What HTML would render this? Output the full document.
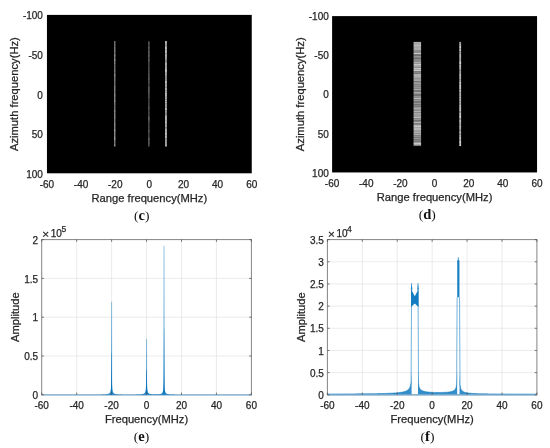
<!DOCTYPE html>
<html lang="en"><head><meta charset="utf-8"><title>Figure</title>
<style>
html,body{margin:0;padding:0;background:#fff;}
body{width:550px;height:448px;overflow:hidden;position:relative;}
svg{position:absolute;left:0;top:0;display:block;}
.t{font-family:"Liberation Sans", Arial, sans-serif;font-size:10px;fill:#262626;stroke:#262626;stroke-width:0.25px;}
.l{font-family:"Liberation Sans", Arial, sans-serif;font-size:11.2px;fill:#262626;stroke:#262626;stroke-width:0.25px;}
.c{font-family:"Liberation Serif", "DejaVu Serif", serif;font-size:13.5px;fill:#111;}
.cl{font-size:14.5px;font-weight:bold;}
.e{font-family:"Liberation Sans", Arial, sans-serif;font-size:8.5px;fill:#262626;}
</style></head><body>
<svg width="550" height="448" viewBox="0 0 550 448">
<rect x="0" y="0" width="550" height="448" fill="#ffffff"/>
<g>
<rect x="46.95" y="14.9" width="204.8" height="158.4" fill="#000"/>
<text class="t" x="46.95" y="187.9" text-anchor="middle">-60</text>
<text class="t" x="81.08" y="187.9" text-anchor="middle">-40</text>
<text class="t" x="115.22" y="187.9" text-anchor="middle">-20</text>
<text class="t" x="149.35" y="187.9" text-anchor="middle">0</text>
<text class="t" x="183.48" y="187.9" text-anchor="middle">20</text>
<text class="t" x="217.62" y="187.9" text-anchor="middle">40</text>
<text class="t" x="251.75" y="187.9" text-anchor="middle">60</text>
<text class="t" x="42.9" y="19.3" text-anchor="end">-100</text>
<text class="t" x="42.9" y="58.9" text-anchor="end">-50</text>
<text class="t" x="42.9" y="98.5" text-anchor="end">0</text>
<text class="t" x="42.9" y="138.1" text-anchor="end">50</text>
<text class="t" x="42.9" y="177.7" text-anchor="end">100</text>
<text class="l" x="149.35" y="202.3" text-anchor="middle">Range frequency(MHz)</text>
<text class="l" transform="translate(18 94.1) rotate(-90)" text-anchor="middle">Azimuth frequency(Hz)</text>
<text class="c" x="141.8" y="219.9" text-anchor="middle">(<tspan class="cl">c</tspan>)</text>
<rect x="114.12" y="41.04" width="1.3" height="2.36" fill="rgb(132,132,132)"/>
<rect x="114.12" y="43.35" width="1.3" height="3.18" fill="rgb(128,128,128)"/>
<rect x="114.12" y="46.47" width="1.3" height="2.89" fill="rgb(143,143,143)"/>
<rect x="114.12" y="49.31" width="1.3" height="1.69" fill="rgb(150,150,150)"/>
<rect x="114.12" y="50.96" width="1.3" height="1.64" fill="rgb(146,146,146)"/>
<rect x="114.12" y="52.55" width="1.3" height="1.72" fill="rgb(129,129,129)"/>
<rect x="114.12" y="54.23" width="1.3" height="2.61" fill="rgb(166,166,166)"/>
<rect x="114.12" y="56.79" width="1.3" height="1.86" fill="rgb(136,136,136)"/>
<rect x="114.12" y="58.6" width="1.3" height="3.12" fill="rgb(172,172,172)"/>
<rect x="114.12" y="61.67" width="1.3" height="2.99" fill="rgb(144,144,144)"/>
<rect x="114.12" y="64.61" width="1.3" height="3.99" fill="rgb(127,127,127)"/>
<rect x="114.12" y="68.55" width="1.3" height="3.7" fill="rgb(139,139,139)"/>
<rect x="114.12" y="72.19" width="1.3" height="1.91" fill="rgb(130,130,130)"/>
<rect x="114.12" y="74.06" width="1.3" height="2.32" fill="rgb(165,165,165)"/>
<rect x="114.12" y="76.33" width="1.3" height="2" fill="rgb(154,154,154)"/>
<rect x="114.12" y="78.28" width="1.3" height="3.15" fill="rgb(143,143,143)"/>
<rect x="114.12" y="81.38" width="1.3" height="2.92" fill="rgb(128,128,128)"/>
<rect x="114.12" y="84.25" width="1.3" height="1.7" fill="rgb(135,135,135)"/>
<rect x="114.12" y="85.89" width="1.3" height="3.25" fill="rgb(146,146,146)"/>
<rect x="114.12" y="89.1" width="1.3" height="2.34" fill="rgb(154,154,154)"/>
<rect x="114.12" y="91.38" width="1.3" height="2.68" fill="rgb(139,139,139)"/>
<rect x="114.12" y="94.01" width="1.3" height="3.54" fill="rgb(159,159,159)"/>
<rect x="114.12" y="97.5" width="1.3" height="2.16" fill="rgb(153,153,153)"/>
<rect x="114.12" y="99.61" width="1.3" height="2.86" fill="rgb(168,168,168)"/>
<rect x="114.12" y="102.42" width="1.3" height="3.37" fill="rgb(139,139,139)"/>
<rect x="114.12" y="105.75" width="1.3" height="4" fill="rgb(130,130,130)"/>
<rect x="114.12" y="109.7" width="1.3" height="2.6" fill="rgb(162,162,162)"/>
<rect x="114.12" y="112.24" width="1.3" height="1.93" fill="rgb(149,149,149)"/>
<rect x="114.12" y="114.12" width="1.3" height="1.65" fill="rgb(158,158,158)"/>
<rect x="114.12" y="115.72" width="1.3" height="3.46" fill="rgb(153,153,153)"/>
<rect x="114.12" y="119.13" width="1.3" height="3.74" fill="rgb(140,140,140)"/>
<rect x="114.12" y="122.82" width="1.3" height="3.29" fill="rgb(154,154,154)"/>
<rect x="114.12" y="126.06" width="1.3" height="3" fill="rgb(147,147,147)"/>
<rect x="114.12" y="129.01" width="1.3" height="3.65" fill="rgb(172,172,172)"/>
<rect x="114.12" y="132.61" width="1.3" height="2.74" fill="rgb(158,158,158)"/>
<rect x="114.12" y="135.29" width="1.3" height="1.7" fill="rgb(160,160,160)"/>
<rect x="114.12" y="136.95" width="1.3" height="3.17" fill="rgb(174,174,174)"/>
<rect x="114.12" y="140.06" width="1.3" height="3.6" fill="rgb(139,139,139)"/>
<rect x="114.12" y="143.62" width="1.3" height="2.51" fill="rgb(158,158,158)"/>
<rect x="114.12" y="146.08" width="1.3" height="0.5" fill="rgb(148,148,148)"/>
<rect x="148.3" y="41.04" width="1.2" height="1.97" fill="rgb(95,95,95)"/>
<rect x="148.3" y="42.96" width="1.2" height="1.7" fill="rgb(128,128,128)"/>
<rect x="148.3" y="44.6" width="1.2" height="1.87" fill="rgb(102,102,102)"/>
<rect x="148.3" y="46.43" width="1.2" height="2.53" fill="rgb(133,133,133)"/>
<rect x="148.3" y="48.9" width="1.2" height="1.75" fill="rgb(112,112,112)"/>
<rect x="148.3" y="50.61" width="1.2" height="2.92" fill="rgb(134,134,134)"/>
<rect x="148.3" y="53.48" width="1.2" height="3.6" fill="rgb(133,133,133)"/>
<rect x="148.3" y="57.03" width="1.2" height="2.25" fill="rgb(110,110,110)"/>
<rect x="148.3" y="59.22" width="1.2" height="2.45" fill="rgb(134,134,134)"/>
<rect x="148.3" y="61.62" width="1.2" height="3.94" fill="rgb(97,97,97)"/>
<rect x="148.3" y="65.51" width="1.2" height="1.99" fill="rgb(101,101,101)"/>
<rect x="148.3" y="67.46" width="1.2" height="2.13" fill="rgb(114,114,114)"/>
<rect x="148.3" y="69.54" width="1.2" height="3.02" fill="rgb(103,103,103)"/>
<rect x="148.3" y="72.51" width="1.2" height="1.56" fill="rgb(110,110,110)"/>
<rect x="148.3" y="74.02" width="1.2" height="2.47" fill="rgb(118,118,118)"/>
<rect x="148.3" y="76.44" width="1.2" height="3.93" fill="rgb(124,124,124)"/>
<rect x="148.3" y="80.33" width="1.2" height="2.84" fill="rgb(120,120,120)"/>
<rect x="148.3" y="83.12" width="1.2" height="3.24" fill="rgb(92,92,92)"/>
<rect x="148.3" y="86.31" width="1.2" height="3.8" fill="rgb(128,128,128)"/>
<rect x="148.3" y="90.06" width="1.2" height="3.74" fill="rgb(129,129,129)"/>
<rect x="148.3" y="93.74" width="1.2" height="2.53" fill="rgb(109,109,109)"/>
<rect x="148.3" y="96.22" width="1.2" height="1.81" fill="rgb(121,121,121)"/>
<rect x="148.3" y="97.98" width="1.2" height="1.71" fill="rgb(93,93,93)"/>
<rect x="148.3" y="99.64" width="1.2" height="2.07" fill="rgb(98,98,98)"/>
<rect x="148.3" y="101.66" width="1.2" height="2.4" fill="rgb(92,92,92)"/>
<rect x="148.3" y="104.01" width="1.2" height="1.55" fill="rgb(97,97,97)"/>
<rect x="148.3" y="105.51" width="1.2" height="1.8" fill="rgb(108,108,108)"/>
<rect x="148.3" y="107.26" width="1.2" height="1.61" fill="rgb(133,133,133)"/>
<rect x="148.3" y="108.83" width="1.2" height="3.09" fill="rgb(97,97,97)"/>
<rect x="148.3" y="111.86" width="1.2" height="2.18" fill="rgb(107,107,107)"/>
<rect x="148.3" y="113.99" width="1.2" height="2.46" fill="rgb(96,96,96)"/>
<rect x="148.3" y="116.4" width="1.2" height="3.67" fill="rgb(139,139,139)"/>
<rect x="148.3" y="120.03" width="1.2" height="2.71" fill="rgb(114,114,114)"/>
<rect x="148.3" y="122.69" width="1.2" height="1.76" fill="rgb(95,95,95)"/>
<rect x="148.3" y="124.41" width="1.2" height="2.41" fill="rgb(103,103,103)"/>
<rect x="148.3" y="126.76" width="1.2" height="3.62" fill="rgb(98,98,98)"/>
<rect x="148.3" y="130.33" width="1.2" height="1.61" fill="rgb(137,137,137)"/>
<rect x="148.3" y="131.89" width="1.2" height="2.87" fill="rgb(97,97,97)"/>
<rect x="148.3" y="134.71" width="1.2" height="2.91" fill="rgb(91,91,91)"/>
<rect x="148.3" y="137.57" width="1.2" height="2.87" fill="rgb(138,138,138)"/>
<rect x="148.3" y="140.39" width="1.2" height="3.71" fill="rgb(124,124,124)"/>
<rect x="148.3" y="144.05" width="1.2" height="2.2" fill="rgb(108,108,108)"/>
<rect x="148.3" y="146.2" width="1.2" height="0.38" fill="rgb(128,128,128)"/>
<rect x="165.02" y="41.04" width="1.9" height="2.88" fill="rgb(183,183,183)"/>
<rect x="165.02" y="43.87" width="1.9" height="2.37" fill="rgb(156,156,156)"/>
<rect x="165.02" y="46.19" width="1.9" height="3.58" fill="rgb(194,194,194)"/>
<rect x="165.02" y="49.72" width="1.9" height="3.68" fill="rgb(185,185,185)"/>
<rect x="165.02" y="53.35" width="1.9" height="3.6" fill="rgb(181,181,181)"/>
<rect x="165.02" y="56.9" width="1.9" height="2.12" fill="rgb(170,170,170)"/>
<rect x="165.02" y="58.96" width="1.9" height="2.44" fill="rgb(146,146,146)"/>
<rect x="165.02" y="61.35" width="1.9" height="1.62" fill="rgb(158,158,158)"/>
<rect x="165.02" y="62.92" width="1.9" height="2.2" fill="rgb(179,179,179)"/>
<rect x="165.02" y="65.07" width="1.9" height="3.94" fill="rgb(167,167,167)"/>
<rect x="165.02" y="68.96" width="1.9" height="3.89" fill="rgb(194,194,194)"/>
<rect x="165.02" y="72.81" width="1.9" height="3.94" fill="rgb(163,163,163)"/>
<rect x="165.02" y="76.69" width="1.9" height="2.1" fill="rgb(156,156,156)"/>
<rect x="165.02" y="78.74" width="1.9" height="2.04" fill="rgb(155,155,155)"/>
<rect x="165.02" y="80.74" width="1.9" height="3.11" fill="rgb(190,190,190)"/>
<rect x="165.02" y="83.8" width="1.9" height="3.65" fill="rgb(168,168,168)"/>
<rect x="165.02" y="87.4" width="1.9" height="3.18" fill="rgb(184,184,184)"/>
<rect x="165.02" y="90.53" width="1.9" height="1.76" fill="rgb(178,178,178)"/>
<rect x="165.02" y="92.24" width="1.9" height="3.82" fill="rgb(184,184,184)"/>
<rect x="165.02" y="96.02" width="1.9" height="3.43" fill="rgb(168,168,168)"/>
<rect x="165.02" y="99.39" width="1.9" height="2" fill="rgb(184,184,184)"/>
<rect x="165.02" y="101.34" width="1.9" height="2.38" fill="rgb(185,185,185)"/>
<rect x="165.02" y="103.67" width="1.9" height="3.98" fill="rgb(164,164,164)"/>
<rect x="165.02" y="107.6" width="1.9" height="2.55" fill="rgb(192,192,192)"/>
<rect x="165.02" y="110.1" width="1.9" height="3.36" fill="rgb(153,153,153)"/>
<rect x="165.02" y="113.41" width="1.9" height="1.87" fill="rgb(152,152,152)"/>
<rect x="165.02" y="115.23" width="1.9" height="3.81" fill="rgb(185,185,185)"/>
<rect x="165.02" y="118.99" width="1.9" height="1.92" fill="rgb(186,186,186)"/>
<rect x="165.02" y="120.86" width="1.9" height="4" fill="rgb(177,177,177)"/>
<rect x="165.02" y="124.81" width="1.9" height="2.43" fill="rgb(172,172,172)"/>
<rect x="165.02" y="127.19" width="1.9" height="1.88" fill="rgb(145,145,145)"/>
<rect x="165.02" y="129.01" width="1.9" height="3.98" fill="rgb(177,177,177)"/>
<rect x="165.02" y="132.94" width="1.9" height="2.87" fill="rgb(191,191,191)"/>
<rect x="165.02" y="135.76" width="1.9" height="2.63" fill="rgb(188,188,188)"/>
<rect x="165.02" y="138.34" width="1.9" height="3.62" fill="rgb(155,155,155)"/>
<rect x="165.02" y="141.91" width="1.9" height="2.18" fill="rgb(159,159,159)"/>
<rect x="165.02" y="144.04" width="1.9" height="2.15" fill="rgb(174,174,174)"/>
<rect x="165.02" y="146.14" width="1.9" height="0.44" fill="rgb(165,165,165)"/>
</g>
<g>
<rect x="332.1" y="16.1" width="204.95" height="156.35" fill="#000"/>
<text class="t" x="332.1" y="186.7" text-anchor="middle">-60</text>
<text class="t" x="366.26" y="186.7" text-anchor="middle">-40</text>
<text class="t" x="400.42" y="186.7" text-anchor="middle">-20</text>
<text class="t" x="434.58" y="186.7" text-anchor="middle">0</text>
<text class="t" x="468.73" y="186.7" text-anchor="middle">20</text>
<text class="t" x="502.89" y="186.7" text-anchor="middle">40</text>
<text class="t" x="537.05" y="186.7" text-anchor="middle">60</text>
<text class="t" x="328.8" y="20.3" text-anchor="end">-100</text>
<text class="t" x="328.8" y="59.39" text-anchor="end">-50</text>
<text class="t" x="328.8" y="98.48" text-anchor="end">0</text>
<text class="t" x="328.8" y="137.56" text-anchor="end">50</text>
<text class="t" x="328.8" y="176.65" text-anchor="end">100</text>
<text class="l" x="434.58" y="200.6" text-anchor="middle">Range frequency(MHz)</text>
<text class="l" transform="translate(303.5 94.28) rotate(-90)" text-anchor="middle">Azimuth frequency(Hz)</text>
<text class="c" x="427.3" y="218.9" text-anchor="middle">(<tspan class="cl">d</tspan>)</text>
<rect x="413.57" y="41.9" width="7.51" height="1.03" fill="rgb(185,185,185)"/>
<rect x="413.57" y="42.88" width="7.51" height="1.35" fill="rgb(168,168,168)"/>
<rect x="413.57" y="44.18" width="7.51" height="1.78" fill="rgb(200,200,200)"/>
<rect x="413.57" y="45.9" width="7.51" height="2.12" fill="rgb(168,168,168)"/>
<rect x="413.57" y="47.97" width="7.51" height="2.01" fill="rgb(175,175,175)"/>
<rect x="413.57" y="49.93" width="7.51" height="1.03" fill="rgb(150,150,150)"/>
<rect x="413.57" y="50.91" width="7.51" height="1.58" fill="rgb(135,135,135)"/>
<rect x="413.57" y="52.44" width="7.51" height="2.07" fill="rgb(200,200,200)"/>
<rect x="413.57" y="54.47" width="7.51" height="1.11" fill="rgb(135,135,135)"/>
<rect x="413.57" y="55.52" width="7.51" height="1.94" fill="rgb(150,150,150)"/>
<rect x="413.57" y="57.41" width="7.51" height="1.09" fill="rgb(168,168,168)"/>
<rect x="413.57" y="58.45" width="7.51" height="1.72" fill="rgb(135,135,135)"/>
<rect x="413.57" y="60.12" width="7.51" height="1.63" fill="rgb(160,160,160)"/>
<rect x="413.57" y="61.7" width="7.51" height="1.81" fill="rgb(175,175,175)"/>
<rect x="413.57" y="63.45" width="7.51" height="1.63" fill="rgb(200,200,200)"/>
<rect x="413.57" y="65.03" width="7.51" height="1.94" fill="rgb(175,175,175)"/>
<rect x="413.57" y="66.92" width="7.51" height="0.93" fill="rgb(150,150,150)"/>
<rect x="413.57" y="67.8" width="7.51" height="1.24" fill="rgb(200,200,200)"/>
<rect x="413.57" y="68.98" width="7.51" height="0.99" fill="rgb(168,168,168)"/>
<rect x="413.57" y="69.92" width="7.51" height="1.64" fill="rgb(200,200,200)"/>
<rect x="413.57" y="71.51" width="7.51" height="2.1" fill="rgb(135,135,135)"/>
<rect x="413.57" y="73.56" width="7.51" height="1.47" fill="rgb(175,175,175)"/>
<rect x="413.57" y="74.98" width="7.51" height="2.21" fill="rgb(175,175,175)"/>
<rect x="413.57" y="77.14" width="7.51" height="1.57" fill="rgb(185,185,185)"/>
<rect x="413.57" y="78.66" width="7.51" height="1.24" fill="rgb(175,175,175)"/>
<rect x="413.57" y="79.85" width="7.51" height="1.6" fill="rgb(168,168,168)"/>
<rect x="413.57" y="81.39" width="7.51" height="1.56" fill="rgb(150,150,150)"/>
<rect x="413.57" y="82.9" width="7.51" height="1.83" fill="rgb(160,160,160)"/>
<rect x="413.57" y="84.68" width="7.51" height="2.14" fill="rgb(150,150,150)"/>
<rect x="413.57" y="86.77" width="7.51" height="2.03" fill="rgb(150,150,150)"/>
<rect x="413.57" y="88.75" width="7.51" height="1.43" fill="rgb(168,168,168)"/>
<rect x="413.57" y="90.13" width="7.51" height="1.47" fill="rgb(135,135,135)"/>
<rect x="413.57" y="91.55" width="7.51" height="1.79" fill="rgb(168,168,168)"/>
<rect x="413.57" y="93.29" width="7.51" height="0.95" fill="rgb(185,185,185)"/>
<rect x="413.57" y="94.19" width="7.51" height="1.27" fill="rgb(135,135,135)"/>
<rect x="413.57" y="95.42" width="7.51" height="2.11" fill="rgb(150,150,150)"/>
<rect x="413.57" y="97.47" width="7.51" height="2.17" fill="rgb(185,185,185)"/>
<rect x="413.57" y="99.59" width="7.51" height="1.77" fill="rgb(150,150,150)"/>
<rect x="413.57" y="101.31" width="7.51" height="1.2" fill="rgb(150,150,150)"/>
<rect x="413.57" y="102.47" width="7.51" height="2.2" fill="rgb(150,150,150)"/>
<rect x="413.57" y="104.62" width="7.51" height="1.9" fill="rgb(135,135,135)"/>
<rect x="413.57" y="106.47" width="7.51" height="1.41" fill="rgb(168,168,168)"/>
<rect x="413.57" y="107.83" width="7.51" height="1.08" fill="rgb(185,185,185)"/>
<rect x="413.57" y="108.85" width="7.51" height="2.02" fill="rgb(150,150,150)"/>
<rect x="413.57" y="110.82" width="7.51" height="1.84" fill="rgb(175,175,175)"/>
<rect x="413.57" y="112.61" width="7.51" height="1.42" fill="rgb(168,168,168)"/>
<rect x="413.57" y="113.97" width="7.51" height="1.12" fill="rgb(160,160,160)"/>
<rect x="413.57" y="115.05" width="7.51" height="0.98" fill="rgb(160,160,160)"/>
<rect x="413.57" y="115.98" width="7.51" height="0.88" fill="rgb(175,175,175)"/>
<rect x="413.57" y="116.8" width="7.51" height="1.49" fill="rgb(185,185,185)"/>
<rect x="413.57" y="118.25" width="7.51" height="0.88" fill="rgb(160,160,160)"/>
<rect x="413.57" y="119.07" width="7.51" height="1.57" fill="rgb(160,160,160)"/>
<rect x="413.57" y="120.6" width="7.51" height="1.57" fill="rgb(135,135,135)"/>
<rect x="413.57" y="122.11" width="7.51" height="1.01" fill="rgb(200,200,200)"/>
<rect x="413.57" y="123.07" width="7.51" height="1.17" fill="rgb(135,135,135)"/>
<rect x="413.57" y="124.19" width="7.51" height="0.97" fill="rgb(160,160,160)"/>
<rect x="413.57" y="125.11" width="7.51" height="0.91" fill="rgb(200,200,200)"/>
<rect x="413.57" y="125.96" width="7.51" height="1.1" fill="rgb(200,200,200)"/>
<rect x="413.57" y="127.02" width="7.51" height="1.03" fill="rgb(168,168,168)"/>
<rect x="413.57" y="128" width="7.51" height="2.04" fill="rgb(185,185,185)"/>
<rect x="413.57" y="129.99" width="7.51" height="2" fill="rgb(160,160,160)"/>
<rect x="413.57" y="131.94" width="7.51" height="1.42" fill="rgb(175,175,175)"/>
<rect x="413.57" y="133.3" width="7.51" height="2.14" fill="rgb(175,175,175)"/>
<rect x="413.57" y="135.39" width="7.51" height="1.54" fill="rgb(160,160,160)"/>
<rect x="413.57" y="136.88" width="7.51" height="0.98" fill="rgb(135,135,135)"/>
<rect x="413.57" y="137.81" width="7.51" height="1.97" fill="rgb(150,150,150)"/>
<rect x="413.57" y="139.73" width="7.51" height="1.45" fill="rgb(135,135,135)"/>
<rect x="413.57" y="141.12" width="7.51" height="1.23" fill="rgb(135,135,135)"/>
<rect x="413.57" y="142.3" width="7.51" height="1.74" fill="rgb(200,200,200)"/>
<rect x="413.57" y="143.99" width="7.51" height="1.21" fill="rgb(175,175,175)"/>
<rect x="413.57" y="145.15" width="7.51" height="0.92" fill="rgb(135,135,135)"/>
<rect x="459.29" y="41.9" width="1.8" height="1.73" fill="rgb(165,165,165)"/>
<rect x="459.29" y="43.57" width="1.8" height="2.07" fill="rgb(195,195,195)"/>
<rect x="459.29" y="45.59" width="1.8" height="3.04" fill="rgb(205,205,205)"/>
<rect x="459.29" y="48.58" width="1.8" height="2.92" fill="rgb(195,195,195)"/>
<rect x="459.29" y="51.45" width="1.8" height="2.37" fill="rgb(165,165,165)"/>
<rect x="459.29" y="53.77" width="1.8" height="2.2" fill="rgb(180,180,180)"/>
<rect x="459.29" y="55.92" width="1.8" height="2.94" fill="rgb(180,180,180)"/>
<rect x="459.29" y="58.8" width="1.8" height="1.72" fill="rgb(180,180,180)"/>
<rect x="459.29" y="60.48" width="1.8" height="1.61" fill="rgb(195,195,195)"/>
<rect x="459.29" y="62.04" width="1.8" height="2.38" fill="rgb(215,215,215)"/>
<rect x="459.29" y="64.37" width="1.8" height="2.62" fill="rgb(195,195,195)"/>
<rect x="459.29" y="66.94" width="1.8" height="2.05" fill="rgb(180,180,180)"/>
<rect x="459.29" y="68.94" width="1.8" height="1.74" fill="rgb(165,165,165)"/>
<rect x="459.29" y="70.63" width="1.8" height="3.04" fill="rgb(165,165,165)"/>
<rect x="459.29" y="73.62" width="1.8" height="1.28" fill="rgb(215,215,215)"/>
<rect x="459.29" y="74.84" width="1.8" height="2.24" fill="rgb(180,180,180)"/>
<rect x="459.29" y="77.04" width="1.8" height="2.18" fill="rgb(180,180,180)"/>
<rect x="459.29" y="79.16" width="1.8" height="2.93" fill="rgb(165,165,165)"/>
<rect x="459.29" y="82.04" width="1.8" height="2.43" fill="rgb(205,205,205)"/>
<rect x="459.29" y="84.43" width="1.8" height="2.43" fill="rgb(215,215,215)"/>
<rect x="459.29" y="86.81" width="1.8" height="2.75" fill="rgb(205,205,205)"/>
<rect x="459.29" y="89.51" width="1.8" height="3" fill="rgb(195,195,195)"/>
<rect x="459.29" y="92.46" width="1.8" height="2.49" fill="rgb(180,180,180)"/>
<rect x="459.29" y="94.9" width="1.8" height="1.87" fill="rgb(180,180,180)"/>
<rect x="459.29" y="96.71" width="1.8" height="1.98" fill="rgb(195,195,195)"/>
<rect x="459.29" y="98.64" width="1.8" height="3.02" fill="rgb(180,180,180)"/>
<rect x="459.29" y="101.61" width="1.8" height="1.28" fill="rgb(195,195,195)"/>
<rect x="459.29" y="102.84" width="1.8" height="2.03" fill="rgb(165,165,165)"/>
<rect x="459.29" y="104.81" width="1.8" height="1.4" fill="rgb(205,205,205)"/>
<rect x="459.29" y="106.16" width="1.8" height="2.82" fill="rgb(195,195,195)"/>
<rect x="459.29" y="108.93" width="1.8" height="2.33" fill="rgb(195,195,195)"/>
<rect x="459.29" y="111.21" width="1.8" height="1.33" fill="rgb(180,180,180)"/>
<rect x="459.29" y="112.49" width="1.8" height="1.53" fill="rgb(205,205,205)"/>
<rect x="459.29" y="113.97" width="1.8" height="1.26" fill="rgb(195,195,195)"/>
<rect x="459.29" y="115.18" width="1.8" height="2.98" fill="rgb(215,215,215)"/>
<rect x="459.29" y="118.11" width="1.8" height="1.83" fill="rgb(165,165,165)"/>
<rect x="459.29" y="119.89" width="1.8" height="2.99" fill="rgb(195,195,195)"/>
<rect x="459.29" y="122.83" width="1.8" height="1.64" fill="rgb(180,180,180)"/>
<rect x="459.29" y="124.42" width="1.8" height="1.25" fill="rgb(205,205,205)"/>
<rect x="459.29" y="125.63" width="1.8" height="1.4" fill="rgb(195,195,195)"/>
<rect x="459.29" y="126.98" width="1.8" height="2.15" fill="rgb(180,180,180)"/>
<rect x="459.29" y="129.08" width="1.8" height="1.7" fill="rgb(165,165,165)"/>
<rect x="459.29" y="130.73" width="1.8" height="1.41" fill="rgb(165,165,165)"/>
<rect x="459.29" y="132.09" width="1.8" height="1.51" fill="rgb(215,215,215)"/>
<rect x="459.29" y="133.55" width="1.8" height="1.33" fill="rgb(165,165,165)"/>
<rect x="459.29" y="134.83" width="1.8" height="1.79" fill="rgb(180,180,180)"/>
<rect x="459.29" y="136.57" width="1.8" height="1.4" fill="rgb(215,215,215)"/>
<rect x="459.29" y="137.92" width="1.8" height="2.79" fill="rgb(180,180,180)"/>
<rect x="459.29" y="140.65" width="1.8" height="2.43" fill="rgb(215,215,215)"/>
<rect x="459.29" y="143.04" width="1.8" height="1.95" fill="rgb(195,195,195)"/>
<rect x="459.29" y="144.94" width="1.8" height="1.14" fill="rgb(205,205,205)"/>
</g>
<g>
<line x1="76.65" y1="239.6" x2="76.65" y2="394.8" stroke="#e2e2e2" stroke-width="0.7"/>
<line x1="111.6" y1="239.6" x2="111.6" y2="394.8" stroke="#e2e2e2" stroke-width="0.7"/>
<line x1="146.55" y1="239.6" x2="146.55" y2="394.8" stroke="#e2e2e2" stroke-width="0.7"/>
<line x1="181.5" y1="239.6" x2="181.5" y2="394.8" stroke="#e2e2e2" stroke-width="0.7"/>
<line x1="216.45" y1="239.6" x2="216.45" y2="394.8" stroke="#e2e2e2" stroke-width="0.7"/>
<line x1="41.7" y1="356" x2="251.4" y2="356" stroke="#e2e2e2" stroke-width="0.7"/>
<line x1="41.7" y1="317.2" x2="251.4" y2="317.2" stroke="#e2e2e2" stroke-width="0.7"/>
<line x1="41.7" y1="278.4" x2="251.4" y2="278.4" stroke="#e2e2e2" stroke-width="0.7"/>
<rect x="41.7" y="239.6" width="209.7" height="155.2" fill="none" stroke="#848484" stroke-width="1"/>
<defs><linearGradient id="sg" x1="0" y1="0" x2="0" y2="1"><stop offset="0" stop-color="#0072bd" stop-opacity="0.42"/><stop offset="0.55" stop-color="#0072bd" stop-opacity="0.6"/><stop offset="1" stop-color="#0072bd" stop-opacity="0.95"/></linearGradient></defs>
<line x1="41.7" y1="394.8" x2="251.4" y2="394.8" stroke="#8fc1e3" stroke-width="1.2"/>
<rect x="111.1" y="301.68" width="1" height="93.12" fill="url(#sg)"/>
<path d="M99.6 394.8 L99.6 394.68 L100.14 394.66 L100.67 394.64 L101.19 394.62 L101.69 394.6 L102.18 394.58 L102.65 394.56 L103.12 394.53 L103.57 394.51 L104 394.48 L104.42 394.45 L104.83 394.42 L105.23 394.39 L105.61 394.35 L105.98 394.31 L106.34 394.27 L106.68 394.22 L107.01 394.17 L107.33 394.11 L107.64 394.04 L107.93 393.97 L108.22 393.88 L108.49 393.78 L108.74 393.67 L108.99 393.54 L109.22 393.38 L109.44 393.2 L109.65 392.99 L109.85 392.72 L110.04 392.41 L110.21 392.02 L110.38 391.54 L110.53 390.93 L110.67 390.15 L110.8 389.14 L110.92 387.81 L111.03 386.01 L111.13 383.55 L111.22 380.09 L111.3 375.1 L111.37 367.77 L111.43 356.75 L111.48 352.9 L111.52 352.9 L111.55 352.9 L111.57 352.9 L111.59 352.9 L111.6 352.9 L111.6 352.9 L111.6 352.9 L111.61 352.9 L111.63 352.9 L111.65 352.9 L111.68 352.9 L111.72 352.9 L111.77 356.75 L111.83 367.77 L111.9 375.1 L111.98 380.09 L112.07 383.55 L112.17 386.01 L112.28 387.81 L112.4 389.14 L112.53 390.15 L112.67 390.93 L112.82 391.54 L112.99 392.02 L113.16 392.41 L113.35 392.72 L113.55 392.99 L113.76 393.2 L113.98 393.38 L114.21 393.54 L114.46 393.67 L114.71 393.78 L114.98 393.88 L115.27 393.97 L115.56 394.04 L115.87 394.11 L116.19 394.17 L116.52 394.22 L116.86 394.27 L117.22 394.31 L117.59 394.35 L117.97 394.39 L118.37 394.42 L118.78 394.45 L119.2 394.48 L119.63 394.51 L120.08 394.53 L120.55 394.56 L121.02 394.58 L121.51 394.6 L122.01 394.62 L122.53 394.64 L123.06 394.66 L123.6 394.68 L123.6 394.8 Z" fill="#0072bd" fill-opacity="0.85"/>
<rect x="146.05" y="338.93" width="1" height="55.87" fill="url(#sg)"/>
<path d="M134.55 394.8 L134.55 394.68 L135.09 394.66 L135.62 394.64 L136.14 394.62 L136.64 394.6 L137.13 394.58 L137.6 394.56 L138.07 394.53 L138.52 394.51 L138.95 394.48 L139.37 394.45 L139.78 394.42 L140.18 394.39 L140.56 394.35 L140.93 394.31 L141.29 394.27 L141.63 394.22 L141.96 394.17 L142.28 394.11 L142.59 394.04 L142.88 393.97 L143.17 393.88 L143.44 393.78 L143.69 393.67 L143.94 393.54 L144.17 393.38 L144.39 393.2 L144.6 392.99 L144.8 392.72 L144.99 392.41 L145.16 392.02 L145.33 391.54 L145.48 390.93 L145.62 390.15 L145.75 389.14 L145.87 387.81 L145.98 386.01 L146.08 383.55 L146.17 380.09 L146.25 375.1 L146.32 369.66 L146.38 369.66 L146.43 369.66 L146.47 369.66 L146.5 369.66 L146.52 369.66 L146.54 369.66 L146.55 369.66 L146.55 369.66 L146.55 369.66 L146.56 369.66 L146.58 369.66 L146.6 369.66 L146.63 369.66 L146.67 369.66 L146.72 369.66 L146.78 369.66 L146.85 375.1 L146.93 380.09 L147.02 383.55 L147.12 386.01 L147.23 387.81 L147.35 389.14 L147.48 390.15 L147.62 390.93 L147.77 391.54 L147.94 392.02 L148.11 392.41 L148.3 392.72 L148.5 392.99 L148.71 393.2 L148.93 393.38 L149.16 393.54 L149.41 393.67 L149.66 393.78 L149.93 393.88 L150.22 393.97 L150.51 394.04 L150.82 394.11 L151.14 394.17 L151.47 394.22 L151.81 394.27 L152.17 394.31 L152.54 394.35 L152.92 394.39 L153.32 394.42 L153.73 394.45 L154.15 394.48 L154.58 394.51 L155.03 394.53 L155.5 394.56 L155.97 394.58 L156.46 394.6 L156.96 394.62 L157.48 394.64 L158.01 394.66 L158.55 394.68 L158.55 394.8 Z" fill="#0072bd" fill-opacity="0.85"/>
<rect x="163.53" y="245.81" width="1" height="148.99" fill="url(#sg)"/>
<path d="M152.03 394.8 L152.03 394.68 L152.57 394.66 L153.1 394.64 L153.61 394.62 L154.12 394.6 L154.6 394.58 L155.08 394.56 L155.54 394.53 L155.99 394.51 L156.43 394.48 L156.85 394.45 L157.26 394.42 L157.65 394.39 L158.04 394.35 L158.41 394.31 L158.76 394.27 L159.11 394.22 L159.44 394.17 L159.76 394.11 L160.06 394.04 L160.36 393.97 L160.64 393.88 L160.91 393.78 L161.17 393.67 L161.41 393.54 L161.65 393.38 L161.87 393.2 L162.08 392.99 L162.28 392.72 L162.46 392.41 L162.64 392.02 L162.8 391.54 L162.95 390.93 L163.1 390.15 L163.23 389.14 L163.35 387.81 L163.46 386.01 L163.56 383.55 L163.64 380.09 L163.72 375.1 L163.79 367.77 L163.85 356.75 L163.9 340.07 L163.94 327.75 L163.97 327.75 L164 327.75 L164.01 327.75 L164.02 327.75 L164.03 327.75 L164.03 327.75 L164.04 327.75 L164.05 327.75 L164.08 327.75 L164.11 327.75 L164.15 340.07 L164.2 356.75 L164.26 367.77 L164.33 375.1 L164.41 380.09 L164.49 383.55 L164.59 386.01 L164.7 387.81 L164.82 389.14 L164.95 390.15 L165.1 390.93 L165.25 391.54 L165.41 392.02 L165.59 392.41 L165.77 392.72 L165.97 392.99 L166.18 393.2 L166.4 393.38 L166.64 393.54 L166.88 393.67 L167.14 393.78 L167.41 393.88 L167.69 393.97 L167.99 394.04 L168.29 394.11 L168.61 394.17 L168.94 394.22 L169.29 394.27 L169.64 394.31 L170.01 394.35 L170.4 394.39 L170.79 394.42 L171.2 394.45 L171.62 394.48 L172.06 394.51 L172.51 394.53 L172.97 394.56 L173.45 394.58 L173.93 394.6 L174.44 394.62 L174.95 394.64 L175.48 394.66 L176.03 394.68 L176.03 394.8 Z" fill="#0072bd" fill-opacity="0.85"/>
<line x1="41.7" y1="394.8" x2="41.7" y2="392.6" stroke="#555" stroke-width="0.8"/>
<line x1="41.7" y1="239.6" x2="41.7" y2="241.8" stroke="#555" stroke-width="0.8"/>
<text class="t" x="41.7" y="408.8" text-anchor="middle">-60</text>
<line x1="76.65" y1="394.8" x2="76.65" y2="392.6" stroke="#555" stroke-width="0.8"/>
<line x1="76.65" y1="239.6" x2="76.65" y2="241.8" stroke="#555" stroke-width="0.8"/>
<text class="t" x="76.65" y="408.8" text-anchor="middle">-40</text>
<line x1="111.6" y1="394.8" x2="111.6" y2="392.6" stroke="#555" stroke-width="0.8"/>
<line x1="111.6" y1="239.6" x2="111.6" y2="241.8" stroke="#555" stroke-width="0.8"/>
<text class="t" x="111.6" y="408.8" text-anchor="middle">-20</text>
<line x1="146.55" y1="394.8" x2="146.55" y2="392.6" stroke="#555" stroke-width="0.8"/>
<line x1="146.55" y1="239.6" x2="146.55" y2="241.8" stroke="#555" stroke-width="0.8"/>
<text class="t" x="146.55" y="408.8" text-anchor="middle">0</text>
<line x1="181.5" y1="394.8" x2="181.5" y2="392.6" stroke="#555" stroke-width="0.8"/>
<line x1="181.5" y1="239.6" x2="181.5" y2="241.8" stroke="#555" stroke-width="0.8"/>
<text class="t" x="181.5" y="408.8" text-anchor="middle">20</text>
<line x1="216.45" y1="394.8" x2="216.45" y2="392.6" stroke="#555" stroke-width="0.8"/>
<line x1="216.45" y1="239.6" x2="216.45" y2="241.8" stroke="#555" stroke-width="0.8"/>
<text class="t" x="216.45" y="408.8" text-anchor="middle">40</text>
<line x1="251.4" y1="394.8" x2="251.4" y2="392.6" stroke="#555" stroke-width="0.8"/>
<line x1="251.4" y1="239.6" x2="251.4" y2="241.8" stroke="#555" stroke-width="0.8"/>
<text class="t" x="251.4" y="408.8" text-anchor="middle">60</text>
<line x1="41.7" y1="394.8" x2="43.9" y2="394.8" stroke="#555" stroke-width="0.8"/>
<line x1="251.4" y1="394.8" x2="249.2" y2="394.8" stroke="#555" stroke-width="0.8"/>
<text class="t" x="38.1" y="399" text-anchor="end">0</text>
<line x1="41.7" y1="356" x2="43.9" y2="356" stroke="#555" stroke-width="0.8"/>
<line x1="251.4" y1="356" x2="249.2" y2="356" stroke="#555" stroke-width="0.8"/>
<text class="t" x="38.1" y="360.2" text-anchor="end">0.5</text>
<line x1="41.7" y1="317.2" x2="43.9" y2="317.2" stroke="#555" stroke-width="0.8"/>
<line x1="251.4" y1="317.2" x2="249.2" y2="317.2" stroke="#555" stroke-width="0.8"/>
<text class="t" x="38.1" y="321.4" text-anchor="end">1</text>
<line x1="41.7" y1="278.4" x2="43.9" y2="278.4" stroke="#555" stroke-width="0.8"/>
<line x1="251.4" y1="278.4" x2="249.2" y2="278.4" stroke="#555" stroke-width="0.8"/>
<text class="t" x="38.1" y="282.6" text-anchor="end">1.5</text>
<line x1="41.7" y1="239.6" x2="43.9" y2="239.6" stroke="#555" stroke-width="0.8"/>
<line x1="251.4" y1="239.6" x2="249.2" y2="239.6" stroke="#555" stroke-width="0.8"/>
<text class="t" x="38.1" y="243.8" text-anchor="end">2</text>
<text class="t" x="42.3" y="237"><tspan style="font-size:11.8px" dy="1.2">×</tspan><tspan x="50.8" dy="-1.2">10</tspan><tspan class="e" x="61.4" dy="-4.8">5</tspan></text>
<text class="l" x="146.55" y="423.2" text-anchor="middle">Frequency(MHz)</text>
<text class="l" transform="translate(18.9 317.2) rotate(-90)" text-anchor="middle">Amplitude</text>
<text class="c" x="141.5" y="441" text-anchor="middle">(<tspan class="cl">e</tspan>)</text>
</g>
<g>
<line x1="362.32" y1="239.6" x2="362.32" y2="394.8" stroke="#e2e2e2" stroke-width="0.7"/>
<line x1="397.23" y1="239.6" x2="397.23" y2="394.8" stroke="#e2e2e2" stroke-width="0.7"/>
<line x1="432.15" y1="239.6" x2="432.15" y2="394.8" stroke="#e2e2e2" stroke-width="0.7"/>
<line x1="467.07" y1="239.6" x2="467.07" y2="394.8" stroke="#e2e2e2" stroke-width="0.7"/>
<line x1="501.98" y1="239.6" x2="501.98" y2="394.8" stroke="#e2e2e2" stroke-width="0.7"/>
<line x1="327.4" y1="372.63" x2="536.9" y2="372.63" stroke="#e2e2e2" stroke-width="0.7"/>
<line x1="327.4" y1="350.46" x2="536.9" y2="350.46" stroke="#e2e2e2" stroke-width="0.7"/>
<line x1="327.4" y1="328.29" x2="536.9" y2="328.29" stroke="#e2e2e2" stroke-width="0.7"/>
<line x1="327.4" y1="306.11" x2="536.9" y2="306.11" stroke="#e2e2e2" stroke-width="0.7"/>
<line x1="327.4" y1="283.94" x2="536.9" y2="283.94" stroke="#e2e2e2" stroke-width="0.7"/>
<line x1="327.4" y1="261.77" x2="536.9" y2="261.77" stroke="#e2e2e2" stroke-width="0.7"/>
<rect x="327.4" y="239.6" width="209.5" height="155.2" fill="none" stroke="#848484" stroke-width="1"/>
<path d="M327.4 394.8 L327.4 394.02 L327.9 394.01 L328.4 394.01 L328.9 394.01 L329.4 394.01 L329.91 394.01 L330.41 394.01 L330.91 394 L331.41 394 L331.91 394 L332.41 394 L332.91 394 L333.41 393.99 L333.92 393.99 L334.42 393.99 L334.92 393.99 L335.42 393.99 L335.92 393.98 L336.42 393.98 L336.92 393.98 L337.42 393.98 L337.92 393.98 L338.43 393.97 L338.93 393.97 L339.43 393.97 L339.93 393.97 L340.43 393.97 L340.93 393.96 L341.43 393.96 L341.93 393.96 L342.44 393.96 L342.94 393.95 L343.44 393.95 L343.94 393.95 L344.44 393.95 L344.94 393.94 L345.44 393.94 L345.94 393.94 L346.45 393.94 L346.95 393.93 L347.45 393.93 L347.95 393.93 L348.45 393.92 L348.95 393.92 L349.45 393.92 L349.95 393.91 L350.45 393.91 L350.96 393.91 L351.46 393.91 L351.96 393.9 L352.46 393.9 L352.96 393.9 L353.46 393.89 L353.96 393.89 L354.46 393.89 L354.97 393.88 L355.47 393.88 L355.97 393.87 L356.47 393.87 L356.97 393.87 L357.47 393.86 L357.97 393.86 L358.47 393.86 L358.97 393.85 L359.48 393.85 L359.98 393.84 L360.48 393.84 L360.98 393.83 L361.48 393.83 L361.98 393.83 L362.48 393.82 L362.98 393.82 L363.49 393.81 L363.99 393.81 L364.49 393.8 L364.99 393.8 L365.49 393.79 L365.99 393.79 L366.49 393.78 L366.99 393.77 L367.5 393.77 L368 393.76 L368.5 393.76 L369 393.75 L369.5 393.74 L370 393.74 L370.5 393.73 L371 393.72 L371.5 393.72 L372.01 393.71 L372.51 393.7 L373.01 393.7 L373.51 393.69 L374.01 393.68 L374.51 393.67 L375.01 393.66 L375.51 393.66 L376.02 393.65 L376.52 393.64 L377.02 393.63 L377.52 393.62 L378.02 393.61 L378.52 393.6 L379.02 393.59 L379.52 393.58 L380.02 393.57 L380.53 393.56 L381.03 393.55 L381.53 393.54 L382.03 393.52 L382.53 393.51 L383.03 393.5 L383.53 393.48 L384.03 393.47 L384.54 393.46 L385.04 393.44 L385.54 393.43 L386.04 393.41 L386.54 393.39 L387.04 393.38 L387.54 393.36 L388.04 393.34 L388.55 393.32 L389.05 393.3 L389.55 393.28 L390.05 393.26 L390.55 393.24 L391.05 393.21 L391.55 393.19 L392.05 393.16 L392.55 393.13 L393.06 393.11 L393.56 393.08 L394.06 393.04 L394.56 393.01 L395.06 392.98 L395.56 392.94 L396.06 392.9 L396.56 392.86 L397.07 392.81 L397.57 392.77 L398.07 392.72 L398.57 392.67 L399.07 392.61 L399.57 392.55 L400.07 392.48 L400.57 392.41 L401.07 392.34 L401.58 392.25 L402.08 392.16 L402.58 392.07 L403.08 391.96 L403.58 391.84 L404.08 391.71 L404.58 391.56 L405.08 391.4 L405.59 391.21 L406.09 391 L406.59 390.76 L407.09 390.48 L407.59 390.15 L408.09 389.75 L408.59 389.27 L409.09 388.67 L409.6 387.88 L410.1 386.8 L410.6 385.16 L411.1 382 L411.6 370.8 L411.6 394.8 Z" fill="#0072bd" fill-opacity="0.8"/>
<path d="M418.01 394.8 L418.01 370.8 L418.51 383.81 L419.01 386.63 L419.51 388 L420.01 388.87 L420.52 389.48 L421.02 389.94 L421.52 390.3 L422.02 390.6 L422.52 390.84 L423.02 391.04 L423.53 391.21 L424.03 391.36 L424.53 391.48 L425.03 391.6 L425.53 391.69 L426.03 391.78 L426.54 391.86 L427.04 391.93 L427.54 391.99 L428.04 392.05 L428.54 392.1 L429.04 392.14 L429.55 392.19 L430.05 392.22 L430.55 392.26 L431.05 392.29 L431.55 392.32 L432.05 392.34 L432.56 392.37 L433.06 392.39 L433.56 392.4 L434.06 392.42 L434.56 392.43 L435.06 392.45 L435.57 392.46 L436.07 392.47 L436.57 392.47 L437.07 392.48 L437.57 392.48 L438.07 392.48 L438.58 392.48 L439.08 392.48 L439.58 392.48 L440.08 392.48 L440.58 392.47 L441.08 392.46 L441.59 392.45 L442.09 392.44 L442.59 392.43 L443.09 392.41 L443.59 392.4 L444.09 392.37 L444.6 392.35 L445.1 392.33 L445.6 392.3 L446.1 392.26 L446.6 392.23 L447.1 392.19 L447.61 392.14 L448.11 392.09 L448.61 392.03 L449.11 391.97 L449.61 391.9 L450.11 391.81 L450.62 391.72 L451.12 391.61 L451.62 391.48 L452.12 391.34 L452.62 391.16 L453.12 390.95 L453.63 390.69 L454.13 390.37 L454.63 389.96 L455.13 389.4 L455.63 388.59 L456.13 387.3 L456.64 384.56 L457.14 370.8 L457.14 394.8 Z" fill="#0072bd" fill-opacity="0.8"/>
<path d="M459.54 394.8 L459.54 370.8 L460.04 384.57 L460.54 387.67 L461.03 389.16 L461.53 390.07 L462.03 390.7 L462.53 391.16 L463.03 391.52 L463.53 391.8 L464.03 392.03 L464.53 392.22 L465.03 392.38 L465.53 392.52 L466.03 392.64 L466.53 392.74 L467.02 392.83 L467.52 392.91 L468.02 392.99 L468.52 393.05 L469.02 393.11 L469.52 393.17 L470.02 393.21 L470.52 393.26 L471.02 393.3 L471.52 393.34 L472.02 393.38 L472.51 393.41 L473.01 393.44 L473.51 393.47 L474.01 393.49 L474.51 393.52 L475.01 393.54 L475.51 393.57 L476.01 393.59 L476.51 393.61 L477.01 393.62 L477.51 393.64 L478 393.66 L478.5 393.68 L479 393.69 L479.5 393.71 L480 393.72 L480.5 393.73 L481 393.74 L481.5 393.76 L482 393.77 L482.5 393.78 L483 393.79 L483.49 393.8 L483.99 393.81 L484.49 393.82 L484.99 393.83 L485.49 393.84 L485.99 393.85 L486.49 393.85 L486.99 393.86 L487.49 393.87 L487.99 393.88 L488.49 393.88 L488.99 393.89 L489.48 393.9 L489.98 393.9 L490.48 393.91 L490.98 393.92 L491.48 393.92 L491.98 393.93 L492.48 393.93 L492.98 393.94 L493.48 393.94 L493.98 393.95 L494.48 393.95 L494.97 393.96 L495.47 393.96 L495.97 393.97 L496.47 393.97 L496.97 393.98 L497.47 393.98 L497.97 393.98 L498.47 393.99 L498.97 393.99 L499.47 393.99 L499.97 394 L500.46 394 L500.96 394.01 L501.46 394.01 L501.96 394.01 L502.46 394.02 L502.96 394.02 L503.46 394.02 L503.96 394.03 L504.46 394.03 L504.96 394.03 L505.46 394.03 L505.95 394.04 L506.45 394.04 L506.95 394.04 L507.45 394.04 L507.95 394.05 L508.45 394.05 L508.95 394.05 L509.45 394.05 L509.95 394.06 L510.45 394.06 L510.95 394.06 L511.45 394.06 L511.94 394.07 L512.44 394.07 L512.94 394.07 L513.44 394.07 L513.94 394.07 L514.44 394.08 L514.94 394.08 L515.44 394.08 L515.94 394.08 L516.44 394.08 L516.94 394.09 L517.43 394.09 L517.93 394.09 L518.43 394.09 L518.93 394.09 L519.43 394.09 L519.93 394.1 L520.43 394.1 L520.93 394.1 L521.43 394.1 L521.93 394.1 L522.43 394.1 L522.92 394.11 L523.42 394.11 L523.92 394.11 L524.42 394.11 L524.92 394.11 L525.42 394.11 L525.92 394.11 L526.42 394.12 L526.92 394.12 L527.42 394.12 L527.92 394.12 L528.42 394.12 L528.91 394.12 L529.41 394.12 L529.91 394.13 L530.41 394.13 L530.91 394.13 L531.41 394.13 L531.91 394.13 L532.41 394.13 L532.91 394.13 L533.41 394.13 L533.91 394.13 L534.4 394.14 L534.9 394.14 L535.4 394.14 L535.9 394.14 L536.4 394.14 L536.9 394.14 L536.9 394.8 Z" fill="#0072bd" fill-opacity="0.8"/>
<path d="M327.4 394.02 L327.9 394.01 L328.4 394.01 L328.9 394.01 L329.4 394.01 L329.91 394.01 L330.41 394.01 L330.91 394 L331.41 394 L331.91 394 L332.41 394 L332.91 394 L333.41 393.99 L333.92 393.99 L334.42 393.99 L334.92 393.99 L335.42 393.99 L335.92 393.98 L336.42 393.98 L336.92 393.98 L337.42 393.98 L337.92 393.98 L338.43 393.97 L338.93 393.97 L339.43 393.97 L339.93 393.97 L340.43 393.97 L340.93 393.96 L341.43 393.96 L341.93 393.96 L342.44 393.96 L342.94 393.95 L343.44 393.95 L343.94 393.95 L344.44 393.95 L344.94 393.94 L345.44 393.94 L345.94 393.94 L346.45 393.94 L346.95 393.93 L347.45 393.93 L347.95 393.93 L348.45 393.92 L348.95 393.92 L349.45 393.92 L349.95 393.91 L350.45 393.91 L350.96 393.91 L351.46 393.91 L351.96 393.9 L352.46 393.9 L352.96 393.9 L353.46 393.89 L353.96 393.89 L354.46 393.89 L354.97 393.88 L355.47 393.88 L355.97 393.87 L356.47 393.87 L356.97 393.87 L357.47 393.86 L357.97 393.86 L358.47 393.86 L358.97 393.85 L359.48 393.85 L359.98 393.84 L360.48 393.84 L360.98 393.83 L361.48 393.83 L361.98 393.83 L362.48 393.82 L362.98 393.82 L363.49 393.81 L363.99 393.81 L364.49 393.8 L364.99 393.8 L365.49 393.79 L365.99 393.79 L366.49 393.78 L366.99 393.77 L367.5 393.77 L368 393.76 L368.5 393.76 L369 393.75 L369.5 393.74 L370 393.74 L370.5 393.73 L371 393.72 L371.5 393.72 L372.01 393.71 L372.51 393.7 L373.01 393.7 L373.51 393.69 L374.01 393.68 L374.51 393.67 L375.01 393.66 L375.51 393.66 L376.02 393.65 L376.52 393.64 L377.02 393.63 L377.52 393.62 L378.02 393.61 L378.52 393.6 L379.02 393.59 L379.52 393.58 L380.02 393.57 L380.53 393.56 L381.03 393.55 L381.53 393.54 L382.03 393.52 L382.53 393.51 L383.03 393.5 L383.53 393.48 L384.03 393.47 L384.54 393.46 L385.04 393.44 L385.54 393.43 L386.04 393.41 L386.54 393.39 L387.04 393.38 L387.54 393.36 L388.04 393.34 L388.55 393.32 L389.05 393.3 L389.55 393.28 L390.05 393.26 L390.55 393.24 L391.05 393.21 L391.55 393.19 L392.05 393.16 L392.55 393.13 L393.06 393.11 L393.56 393.08 L394.06 393.04 L394.56 393.01 L395.06 392.98 L395.56 392.94 L396.06 392.9 L396.56 392.86 L397.07 392.81 L397.57 392.77 L398.07 392.72 L398.57 392.67 L399.07 392.61 L399.57 392.55 L400.07 392.48 L400.57 392.41 L401.07 392.34 L401.58 392.25 L402.08 392.16 L402.58 392.07 L403.08 391.96 L403.58 391.84 L404.08 391.71 L404.58 391.56 L405.08 391.4 L405.59 391.21 L406.09 391 L406.59 390.76 L407.09 390.48 L407.59 390.15 L408.09 389.75 L408.59 389.27 L409.09 388.67 L409.6 387.88 L410.1 386.8 L410.6 385.16 L411.1 382 L411.6 283.06" fill="none" stroke="#0072bd" stroke-width="1" stroke-opacity="0.55" stroke-linejoin="round"/>
<path d="M418.01 283.06 L418.51 383.81 L419.01 386.63 L419.51 388 L420.01 388.87 L420.52 389.48 L421.02 389.94 L421.52 390.3 L422.02 390.6 L422.52 390.84 L423.02 391.04 L423.53 391.21 L424.03 391.36 L424.53 391.48 L425.03 391.6 L425.53 391.69 L426.03 391.78 L426.54 391.86 L427.04 391.93 L427.54 391.99 L428.04 392.05 L428.54 392.1 L429.04 392.14 L429.55 392.19 L430.05 392.22 L430.55 392.26 L431.05 392.29 L431.55 392.32 L432.05 392.34 L432.56 392.37 L433.06 392.39 L433.56 392.4 L434.06 392.42 L434.56 392.43 L435.06 392.45 L435.57 392.46 L436.07 392.47 L436.57 392.47 L437.07 392.48 L437.57 392.48 L438.07 392.48 L438.58 392.48 L439.08 392.48 L439.58 392.48 L440.08 392.48 L440.58 392.47 L441.08 392.46 L441.59 392.45 L442.09 392.44 L442.59 392.43 L443.09 392.41 L443.59 392.4 L444.09 392.37 L444.6 392.35 L445.1 392.33 L445.6 392.3 L446.1 392.26 L446.6 392.23 L447.1 392.19 L447.61 392.14 L448.11 392.09 L448.61 392.03 L449.11 391.97 L449.61 391.9 L450.11 391.81 L450.62 391.72 L451.12 391.61 L451.62 391.48 L452.12 391.34 L452.62 391.16 L453.12 390.95 L453.63 390.69 L454.13 390.37 L454.63 389.96 L455.13 389.4 L455.63 388.59 L456.13 387.3 L456.64 384.56 L457.14 297.25" fill="none" stroke="#0072bd" stroke-width="1" stroke-opacity="0.55" stroke-linejoin="round"/>
<path d="M459.54 297.25 L460.04 384.57 L460.54 387.67 L461.03 389.16 L461.53 390.07 L462.03 390.7 L462.53 391.16 L463.03 391.52 L463.53 391.8 L464.03 392.03 L464.53 392.22 L465.03 392.38 L465.53 392.52 L466.03 392.64 L466.53 392.74 L467.02 392.83 L467.52 392.91 L468.02 392.99 L468.52 393.05 L469.02 393.11 L469.52 393.17 L470.02 393.21 L470.52 393.26 L471.02 393.3 L471.52 393.34 L472.02 393.38 L472.51 393.41 L473.01 393.44 L473.51 393.47 L474.01 393.49 L474.51 393.52 L475.01 393.54 L475.51 393.57 L476.01 393.59 L476.51 393.61 L477.01 393.62 L477.51 393.64 L478 393.66 L478.5 393.68 L479 393.69 L479.5 393.71 L480 393.72 L480.5 393.73 L481 393.74 L481.5 393.76 L482 393.77 L482.5 393.78 L483 393.79 L483.49 393.8 L483.99 393.81 L484.49 393.82 L484.99 393.83 L485.49 393.84 L485.99 393.85 L486.49 393.85 L486.99 393.86 L487.49 393.87 L487.99 393.88 L488.49 393.88 L488.99 393.89 L489.48 393.9 L489.98 393.9 L490.48 393.91 L490.98 393.92 L491.48 393.92 L491.98 393.93 L492.48 393.93 L492.98 393.94 L493.48 393.94 L493.98 393.95 L494.48 393.95 L494.97 393.96 L495.47 393.96 L495.97 393.97 L496.47 393.97 L496.97 393.98 L497.47 393.98 L497.97 393.98 L498.47 393.99 L498.97 393.99 L499.47 393.99 L499.97 394 L500.46 394 L500.96 394.01 L501.46 394.01 L501.96 394.01 L502.46 394.02 L502.96 394.02 L503.46 394.02 L503.96 394.03 L504.46 394.03 L504.96 394.03 L505.46 394.03 L505.95 394.04 L506.45 394.04 L506.95 394.04 L507.45 394.04 L507.95 394.05 L508.45 394.05 L508.95 394.05 L509.45 394.05 L509.95 394.06 L510.45 394.06 L510.95 394.06 L511.45 394.06 L511.94 394.07 L512.44 394.07 L512.94 394.07 L513.44 394.07 L513.94 394.07 L514.44 394.08 L514.94 394.08 L515.44 394.08 L515.94 394.08 L516.44 394.08 L516.94 394.09 L517.43 394.09 L517.93 394.09 L518.43 394.09 L518.93 394.09 L519.43 394.09 L519.93 394.1 L520.43 394.1 L520.93 394.1 L521.43 394.1 L521.93 394.1 L522.43 394.1 L522.92 394.11 L523.42 394.11 L523.92 394.11 L524.42 394.11 L524.92 394.11 L525.42 394.11 L525.92 394.11 L526.42 394.12 L526.92 394.12 L527.42 394.12 L527.92 394.12 L528.42 394.12 L528.91 394.12 L529.41 394.12 L529.91 394.13 L530.41 394.13 L530.91 394.13 L531.41 394.13 L531.91 394.13 L532.41 394.13 L532.91 394.13 L533.41 394.13 L533.91 394.13 L534.4 394.14 L534.9 394.14 L535.4 394.14 L535.9 394.14 L536.4 394.14 L536.9 394.14" fill="none" stroke="#0072bd" stroke-width="1" stroke-opacity="0.55" stroke-linejoin="round"/>
<line x1="327.4" y1="394.8" x2="536.9" y2="394.8" stroke="#7fb3da" stroke-width="1.3"/>
<path d="M411.1 289.26 L414.8 296.36 L418.51 289.26 L418.51 307 L414.8 303.45 L411.1 307 Z" fill="#0072bd" fill-opacity="0.92"/>
<path d="M410.7 289.76 L411.6 283.56 L412.5 289.76 Z" fill="#0072bd" fill-opacity="0.75"/>
<path d="M417.11 289.76 L418.01 283.56 L418.91 289.76 Z" fill="#0072bd" fill-opacity="0.75"/>
<rect x="457.24" y="260.34" width="2.2" height="36.91" fill="#0072bd" fill-opacity="0.9"/>
<line x1="458.34" y1="257.34" x2="458.34" y2="261.34" stroke="#0072bd" stroke-width="1.4" stroke-opacity="0.55"/>
<line x1="327.4" y1="394.8" x2="327.4" y2="392.6" stroke="#555" stroke-width="0.8"/>
<line x1="327.4" y1="239.6" x2="327.4" y2="241.8" stroke="#555" stroke-width="0.8"/>
<text class="t" x="327.4" y="408.8" text-anchor="middle">-60</text>
<line x1="362.32" y1="394.8" x2="362.32" y2="392.6" stroke="#555" stroke-width="0.8"/>
<line x1="362.32" y1="239.6" x2="362.32" y2="241.8" stroke="#555" stroke-width="0.8"/>
<text class="t" x="362.32" y="408.8" text-anchor="middle">-40</text>
<line x1="397.23" y1="394.8" x2="397.23" y2="392.6" stroke="#555" stroke-width="0.8"/>
<line x1="397.23" y1="239.6" x2="397.23" y2="241.8" stroke="#555" stroke-width="0.8"/>
<text class="t" x="397.23" y="408.8" text-anchor="middle">-20</text>
<line x1="432.15" y1="394.8" x2="432.15" y2="392.6" stroke="#555" stroke-width="0.8"/>
<line x1="432.15" y1="239.6" x2="432.15" y2="241.8" stroke="#555" stroke-width="0.8"/>
<text class="t" x="432.15" y="408.8" text-anchor="middle">0</text>
<line x1="467.07" y1="394.8" x2="467.07" y2="392.6" stroke="#555" stroke-width="0.8"/>
<line x1="467.07" y1="239.6" x2="467.07" y2="241.8" stroke="#555" stroke-width="0.8"/>
<text class="t" x="467.07" y="408.8" text-anchor="middle">20</text>
<line x1="501.98" y1="394.8" x2="501.98" y2="392.6" stroke="#555" stroke-width="0.8"/>
<line x1="501.98" y1="239.6" x2="501.98" y2="241.8" stroke="#555" stroke-width="0.8"/>
<text class="t" x="501.98" y="408.8" text-anchor="middle">40</text>
<line x1="536.9" y1="394.8" x2="536.9" y2="392.6" stroke="#555" stroke-width="0.8"/>
<line x1="536.9" y1="239.6" x2="536.9" y2="241.8" stroke="#555" stroke-width="0.8"/>
<text class="t" x="536.9" y="408.8" text-anchor="middle">60</text>
<line x1="327.4" y1="394.8" x2="329.6" y2="394.8" stroke="#555" stroke-width="0.8"/>
<line x1="536.9" y1="394.8" x2="534.7" y2="394.8" stroke="#555" stroke-width="0.8"/>
<text class="t" x="323.8" y="399" text-anchor="end">0</text>
<line x1="327.4" y1="372.63" x2="329.6" y2="372.63" stroke="#555" stroke-width="0.8"/>
<line x1="536.9" y1="372.63" x2="534.7" y2="372.63" stroke="#555" stroke-width="0.8"/>
<text class="t" x="323.8" y="376.83" text-anchor="end">0.5</text>
<line x1="327.4" y1="350.46" x2="329.6" y2="350.46" stroke="#555" stroke-width="0.8"/>
<line x1="536.9" y1="350.46" x2="534.7" y2="350.46" stroke="#555" stroke-width="0.8"/>
<text class="t" x="323.8" y="354.66" text-anchor="end">1</text>
<line x1="327.4" y1="328.29" x2="329.6" y2="328.29" stroke="#555" stroke-width="0.8"/>
<line x1="536.9" y1="328.29" x2="534.7" y2="328.29" stroke="#555" stroke-width="0.8"/>
<text class="t" x="323.8" y="332.49" text-anchor="end">1.5</text>
<line x1="327.4" y1="306.11" x2="329.6" y2="306.11" stroke="#555" stroke-width="0.8"/>
<line x1="536.9" y1="306.11" x2="534.7" y2="306.11" stroke="#555" stroke-width="0.8"/>
<text class="t" x="323.8" y="310.31" text-anchor="end">2</text>
<line x1="327.4" y1="283.94" x2="329.6" y2="283.94" stroke="#555" stroke-width="0.8"/>
<line x1="536.9" y1="283.94" x2="534.7" y2="283.94" stroke="#555" stroke-width="0.8"/>
<text class="t" x="323.8" y="288.14" text-anchor="end">2.5</text>
<line x1="327.4" y1="261.77" x2="329.6" y2="261.77" stroke="#555" stroke-width="0.8"/>
<line x1="536.9" y1="261.77" x2="534.7" y2="261.77" stroke="#555" stroke-width="0.8"/>
<text class="t" x="323.8" y="265.97" text-anchor="end">3</text>
<line x1="327.4" y1="239.6" x2="329.6" y2="239.6" stroke="#555" stroke-width="0.8"/>
<line x1="536.9" y1="239.6" x2="534.7" y2="239.6" stroke="#555" stroke-width="0.8"/>
<text class="t" x="323.8" y="243.8" text-anchor="end">3.5</text>
<text class="t" x="328" y="237"><tspan style="font-size:11.8px" dy="1.2">×</tspan><tspan x="336.5" dy="-1.2">10</tspan><tspan class="e" x="347.1" dy="-4.8">4</tspan></text>
<text class="l" x="432.15" y="422.9" text-anchor="middle">Frequency(MHz)</text>
<text class="l" transform="translate(304.9 317.2) rotate(-90)" text-anchor="middle">Amplitude</text>
<text class="c" x="427.5" y="440.9" text-anchor="middle">(<tspan class="cl">f</tspan>)</text>
</g>
</svg>
</body></html>
